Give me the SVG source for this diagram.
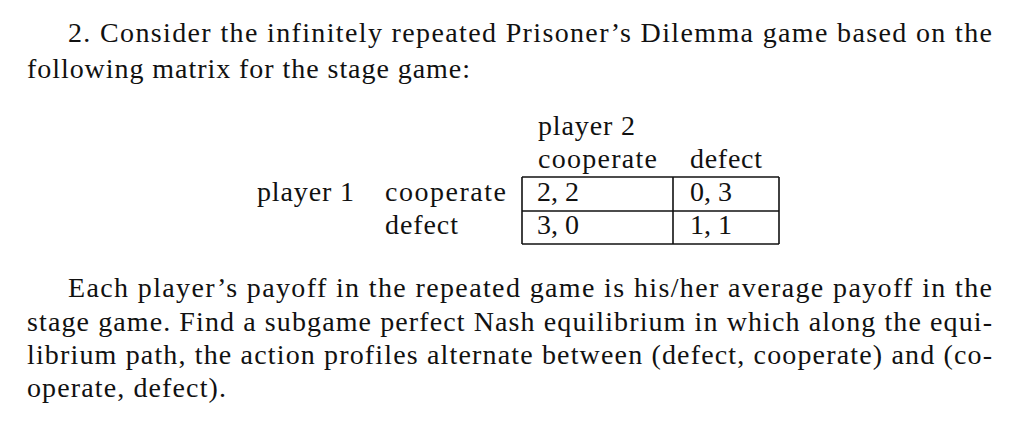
<svg xmlns="http://www.w3.org/2000/svg" width="1024" height="438" viewBox="0 0 1024 438">
<style>
text{font-family:"Liberation Serif","DejaVu Serif",serif;font-size:28px;fill:#111}
.j{lengthAdjust:spacing}
line{stroke:#111;stroke-width:1.6}
</style>
<rect width="1024" height="438" fill="#fff"/>
<g id="question">
<text x="68" y="42" textLength="924" lengthAdjust="spacing">2.  Consider the infinitely repeated Prisoner’s Dilemma game based on the</text>
<text x="27" y="78" textLength="443" lengthAdjust="spacing">following matrix for the stage game:</text>
</g>
<g id="matrix">
<text x="538" y="135" textLength="97" lengthAdjust="spacing">player 2</text>
<text x="538" y="168" textLength="119" lengthAdjust="spacing">cooperate</text>
<text x="690" y="168" textLength="72" lengthAdjust="spacing">defect</text>
<text x="257" y="201" textLength="97" lengthAdjust="spacing">player 1</text>
<text x="385" y="201" textLength="121" lengthAdjust="spacing">cooperate</text>
<text x="385" y="234" textLength="73" lengthAdjust="spacing">defect</text>
<text x="537" y="201">2, 2</text>
<text x="690" y="201">0, 3</text>
<text x="537" y="234">3, 0</text>
<text x="690" y="234">1, 1</text>
<line x1="522" y1="177" x2="779" y2="177"/>
<line x1="522" y1="211" x2="779" y2="211"/>
<line x1="522" y1="244" x2="779" y2="244"/>
<line x1="522" y1="177" x2="522" y2="244"/>
<line x1="673" y1="177" x2="673" y2="244"/>
<line x1="779" y1="177" x2="779" y2="244"/>
</g>
<g id="paragraph">
<text x="68" y="297" textLength="924" lengthAdjust="spacing">Each player’s payoff in the repeated game is his/her average payoff in the</text>
<text x="27" y="331" textLength="965" lengthAdjust="spacing">stage game. Find a subgame perfect Nash equilibrium in which along the equi-</text>
<text x="27" y="364" textLength="965" lengthAdjust="spacing">librium path, the action profiles alternate between (defect, cooperate) and (co-</text>
<text x="27" y="397" textLength="199" lengthAdjust="spacing">operate, defect).</text>
</g>
</svg>
